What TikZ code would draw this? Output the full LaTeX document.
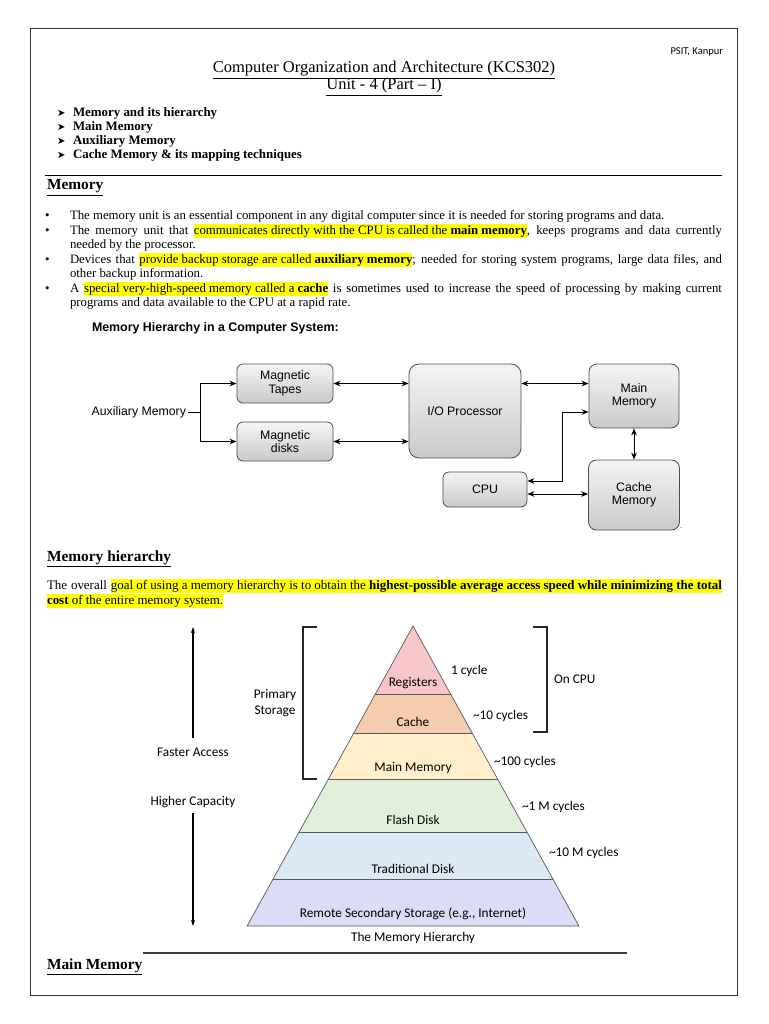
\documentclass[tikz,border=0pt]{standalone}
\usepackage{fontspec}
\setmainfont{Liberation Serif}
\newfontfamily\arialf{Liberation Sans}
\newfontfamily\calf{Carlito}
\newfontfamily\djv{DejaVu Sans}
\usetikzlibrary{arrows.meta}
\definecolor{hl}{RGB}{255,255,0}
\definecolor{cReg}{RGB}{247,198,201}
\definecolor{cCache}{RGB}{244,204,174}
\definecolor{cMain}{RGB}{255,240,203}
\definecolor{cFlash}{RGB}{226,239,218}
\definecolor{cTrad}{RGB}{220,233,245}
\definecolor{cRemote}{RGB}{220,220,248}
\newcommand\hlt[1]{{\setlength{\fboxsep}{0pt}\colorbox{hl}{\strut #1}}}
\begin{document}
\begin{tikzpicture}[x=1pt,y=-1pt,
  txt/.style={inner sep=0pt,outer sep=0pt},
  body/.style={txt,anchor=base west,font=\fontsize{12.8}{14}\selectfont},
  head/.style={txt,anchor=base west,font=\bfseries\fontsize{15.4}{17}\selectfont},
  item/.style={txt,anchor=base west,font=\bfseries\fontsize{12.9}{14}\selectfont},
  arrowbul/.style={txt,anchor=base west,font=\djv\fontsize{10}{11}\selectfont},
  dotbul/.style={txt,anchor=base west,font=\fontsize{12.8}{14}\selectfont},
  blk/.style={draw=black!70,line width=0.8pt,rounded corners=6pt,top color=gray!8,bottom color=gray!42,
    font=\arialf\fontsize{12.3}{13.5}\selectfont,align=center,inner sep=0pt},
  arr/.style={line width=1pt,-{Stealth[length=7pt,width=5.5pt]}},
  darr/.style={line width=1pt,{Stealth[length=7pt,width=5.5pt]}-{Stealth[length=7pt,width=5.5pt]}},
  py/.style={draw=black!65,line width=0.7pt},
  plab/.style={txt,font=\calf\fontsize{13.3}{15.5}\selectfont},
  brk/.style={line width=1.4pt,black!85},
  vax/.style={line width=1.4pt,-{Stealth[length=6pt,width=4pt]}}
]
\useasboundingbox[fill=white] (0,0) rectangle (768,1024);
% page frame
\draw[line width=1pt,black!80] (30,29) rectangle (737,995);
\node[txt,anchor=east,font=\calf\fontsize{10.5}{12}\selectfont] (psit) at (723,52) {PSIT, Kanpur};
% title
\node[txt,anchor=base,font=\fontsize{16.5}{18}\selectfont] (title1) at (384,73) {\underline{Computer Organization and Architecture (KCS302)}};
\node[txt,anchor=base,font=\fontsize{16.5}{18}\selectfont] (title2) at (384,90) {\underline{Unit - 4 (Part -- I)}};
% topic list
\node[arrowbul] (a1) at (57,117) {➤};
\node[item] (i1) at (73,117) {Memory and its hierarchy};
\node[arrowbul] (a2) at (57,131) {➤};
\node[item] (i2) at (73,131) {Main Memory};
\node[arrowbul] (a3) at (57,145) {➤};
\node[item] (i3) at (73,145) {Auxiliary Memory};
\node[arrowbul] (a4) at (57,159) {➤};
\node[item] (i4) at (73,159) {Cache Memory \& its mapping techniques};
\draw[line width=1pt] (45,176) -- (722,176);
% Memory section
\node[head] (hmem) at (47,190) {\underline{Memory}};
\node[dotbul] (d1) at (45,219) {•};
\node[body] (l1) at (70,219) {The memory unit is an essential component in any digital computer since it is needed for storing programs and data.};
\node[dotbul] (d2) at (45,234) {•};
\node[body] (l2) at (70,234) {\makebox[652pt][s]{The memory unit that \hlt{communicates directly with the CPU is called the \textbf{main memory}}, keeps programs and data currently}};
\node[body] (l3) at (70,248) {needed by the processor.};
\node[dotbul] (d3) at (45,263) {•};
\node[body] (l4) at (70,263) {\makebox[652pt][s]{Devices that \hlt{provide backup storage are called \textbf{auxiliary memory}}; needed for storing system programs, large data files, and}};
\node[body] (l5) at (70,277) {other backup information.};
\node[dotbul] (d4) at (45,292) {•};
\node[body] (l6) at (70,292) {\makebox[652pt][s]{A \hlt{special very-high-speed memory called a \textbf{cache}} is sometimes used to increase the speed of processing by making current}};
\node[body] (l7) at (70,306) {programs and data available to the CPU at a rapid rate.};
% block diagram
\node[txt,anchor=west,font=\arialf\bfseries\fontsize{12.4}{14}\selectfont] (bdt) at (92,328) {Memory Hierarchy in a Computer System:};
\node[blk,minimum width=96pt,minimum height=39pt] (tapes) at (285,383.5) {Magnetic\\Tapes};
\node[blk,minimum width=96pt,minimum height=39pt] (disks) at (285,441.5) {Magnetic\\disks};
\node[blk,minimum width=112pt,minimum height=94pt,rounded corners=10pt] (io) at (465,411) {I/O Processor};
\node[blk,minimum width=90pt,minimum height=64pt,rounded corners=8pt] (mainm) at (634,396) {Main\\Memory};
\node[blk,minimum width=91pt,minimum height=70pt,rounded corners=8pt] (cachem) at (634,495) {Cache\\Memory};
\node[blk,minimum width=84pt,minimum height=35pt] (cpu) at (485,489.5) {CPU};
\node[txt,anchor=east,font=\arialf\fontsize{12.3}{13.5}\selectfont] (aux) at (186,412) {Auxiliary Memory};
\coordinate (j) at (200,412);
\draw[line width=1pt] ([xshift=2pt]aux.east) -- (j);
\draw[arr] (j) |- (tapes.west);
\draw[arr] (j) |- (disks.west);
\draw[darr] (tapes.east) -- (tapes.east -| io.west);
\draw[darr] (disks.east) -- (disks.east -| io.west);
\draw[darr] (io.east |- tapes.east) -- (mainm.west |- tapes.east);
\draw[darr] (mainm.south) -- (cachem.north);
\draw[darr] ([yshift=-4.5pt]cpu.east) -- ([yshift=-4.5pt]cpu.east -| cachem.west);
\draw[darr] ([yshift=8.5pt]cpu.east) -- ++(35,0) |- ([yshift=-16pt]mainm.west);
\node[txt,font=\fontsize{8}{9}\selectfont] (dot) at (681,528) {.};
% Memory hierarchy section
\node[head] (hmh) at (47,561) {\underline{Memory hierarchy}};
\node[body,font=\fontsize{12.95}{14}\selectfont] (p1) at (47,589) {\makebox[675pt][s]{The overall \hlt{goal of using a memory hierarchy is to obtain the \textbf{highest-possible average access speed while minimizing the total}}}};
\node[body,font=\fontsize{12.95}{14}\selectfont] (p2) at (47,604) {\hlt{\textbf{cost} of the entire memory system.}};
% pyramid
\fill[cReg] (413,626) -- (450.6,694) -- (375.4,694) -- cycle;
\fill[cCache] (375.4,694) -- (450.6,694) -- (472.2,733) -- (353.8,733) -- cycle;
\fill[cMain] (353.8,733) -- (472.2,733) -- (497.6,779) -- (328.4,779) -- cycle;
\fill[cFlash] (328.4,779) -- (497.6,779) -- (526.9,832) -- (299.1,832) -- cycle;
\fill[cTrad] (299.1,832) -- (526.9,832) -- (552.9,879) -- (273.1,879) -- cycle;
\fill[cRemote] (273.1,879) -- (552.9,879) -- (578.9,926) -- (247.1,926) -- cycle;
\draw[py] (413,626) -- (578.9,926) -- (247.1,926) -- cycle;
\draw[py] (375.4,694) -- (450.6,694);
\draw[py] (353.8,733) -- (472.2,733);
\draw[py] (328.4,779) -- (497.6,779);
\draw[py] (299.1,832) -- (526.9,832);
\draw[py] (273.1,879) -- (552.9,879);
\node[plab] (preg) at (413,683) {Registers};
\node[plab] (pcache) at (413,722) {Cache};
\node[plab] (pmain) at (413,768) {Main Memory};
\node[plab] (pflash) at (413,820) {Flash Disk};
\node[plab] (ptrad) at (413,869) {Traditional Disk};
\node[plab] (prem) at (413,914) {Remote Secondary Storage (e.g., Internet)};
\node[plab] (pcap) at (413,938) {The Memory Hierarchy};
\node[plab,anchor=west] (c1) at (451,671) {1 cycle};
\node[plab,anchor=west] (c2) at (473,716) {\textasciitilde10 cycles};
\node[plab,anchor=west] (c3) at (494,762) {\textasciitilde100 cycles};
\node[plab,anchor=west] (c4) at (522,807) {\textasciitilde1 M cycles};
\node[plab,anchor=west] (c5) at (549,853) {\textasciitilde10 M cycles};
\node[plab,anchor=west] (oncpu) at (554,679) {On CPU};
\node[plab,align=center] (prim) at (275,703) {Primary\\Storage};
\draw[brk] (317,627) -- (303,627) -- (303,779) -- (317,779);
\draw[brk] (533,627) -- (547,627) -- (547,732) -- (533,732);
\node[plab] (fa) at (193,752) {Faster Access};
\node[plab] (hc) at (193,802) {Higher Capacity};
\draw[vax] (fa.north |- 0,738) -- (193,627);
\draw[vax] (hc.south |- 0,813) -- (193,926);
\draw[line width=1.3pt,black!75] (143,953) -- (627,953);
\node[head] (hmm) at (47,969) {\underline{Main Memory}};
\end{tikzpicture}
\end{document}
